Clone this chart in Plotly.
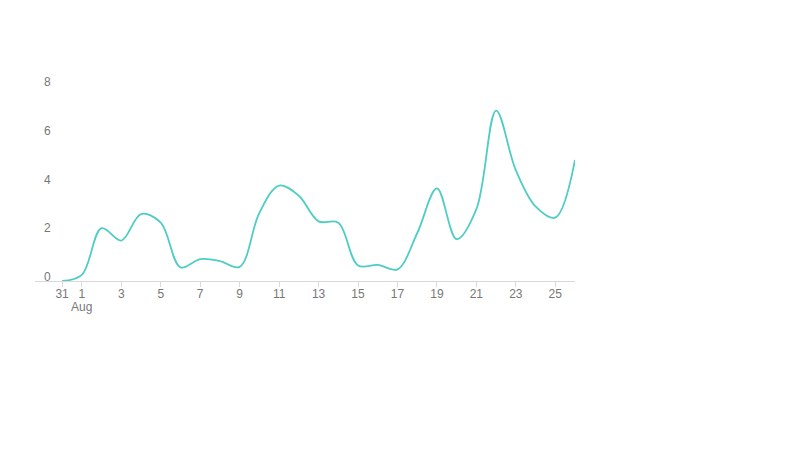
import plotly.graph_objects as go

# daily values, Jul 31 -> Aug 26
dates = [
    "2023-07-31", "2023-08-01", "2023-08-02", "2023-08-03", "2023-08-04",
    "2023-08-05", "2023-08-06", "2023-08-07", "2023-08-08", "2023-08-09",
    "2023-08-10", "2023-08-11", "2023-08-12", "2023-08-13", "2023-08-14",
    "2023-08-15", "2023-08-16", "2023-08-17", "2023-08-18", "2023-08-19",
    "2023-08-20", "2023-08-21", "2023-08-22", "2023-08-23", "2023-08-24",
    "2023-08-25", "2023-08-26",
]
values = [
    0.0, 0.25, 2.17, 1.66, 2.75,
    2.4, 0.56, 0.9, 0.82, 0.58,
    2.8, 3.92, 3.5, 2.45, 2.39,
    0.64, 0.66, 0.48, 1.96, 3.8,
    1.72, 2.95, 7.0, 4.55, 3.06,
    2.6, 4.97,
]

tick_dates = [
    "2023-07-31", "2023-08-01", "2023-08-03", "2023-08-05", "2023-08-07",
    "2023-08-09", "2023-08-11", "2023-08-13", "2023-08-15", "2023-08-17",
    "2023-08-19", "2023-08-21", "2023-08-23", "2023-08-25",
]
tick_text = ["31", "1", "3", "5", "7", "9", "11", "13", "15", "17",
             "19", "21", "23", "25"]
month_label = "Aug"
y_ticks = [0, 2, 4, 6, 8]

fig = go.Figure(
    go.Scatter(
        x=dates,
        y=values,
        mode="lines",
        line=dict(color="#4ecdc4", width=1.8, shape="spline", smoothing=1),
        hoverinfo="x+y",
    )
)

# page body adds 8px, so margins are 8px smaller than the target positions
fig.update_layout(
    width=800,
    height=450,
    margin=dict(l=27, r=233, t=66, b=177),
    paper_bgcolor="white",
    plot_bgcolor="white",
    showlegend=False,
    font=dict(family="Arial, Liberation Sans, sans-serif", size=12, color="#777777"),
)

# month name under the first tick of August
fig.add_annotation(
    x=tick_dates[1],
    y=0,
    xref="x",
    yref="paper",
    yshift=-17,
    text=month_label,
    showarrow=False,
    xanchor="center",
    yanchor="top",
    font=dict(size=12, color="#777777"),
)

fig.update_xaxes(
    type="date",
    range=["2023-07-29 15:00", "2023-08-26"],
    tickvals=tick_dates,
    ticktext=tick_text,
    showgrid=False,
    zeroline=False,
    showline=True,
    linecolor="#d9d9d9",
    linewidth=1,
    ticks="outside",
    ticklen=5,
    tickcolor="#d9d9d9",
    ticklabelstandoff=-3,
)

# y labels sit just right of the left edge, a little above each tick
fig.update_yaxes(
    range=[0, 8.5],
    tickvals=y_ticks,
    showgrid=False,
    zeroline=False,
    showline=False,
    ticks="",
    side="right",
    anchor="free",
    position=0,
    ticklabelstandoff=8,
    ticklabelshift=-4,
)

fig.write_html("out.html")
